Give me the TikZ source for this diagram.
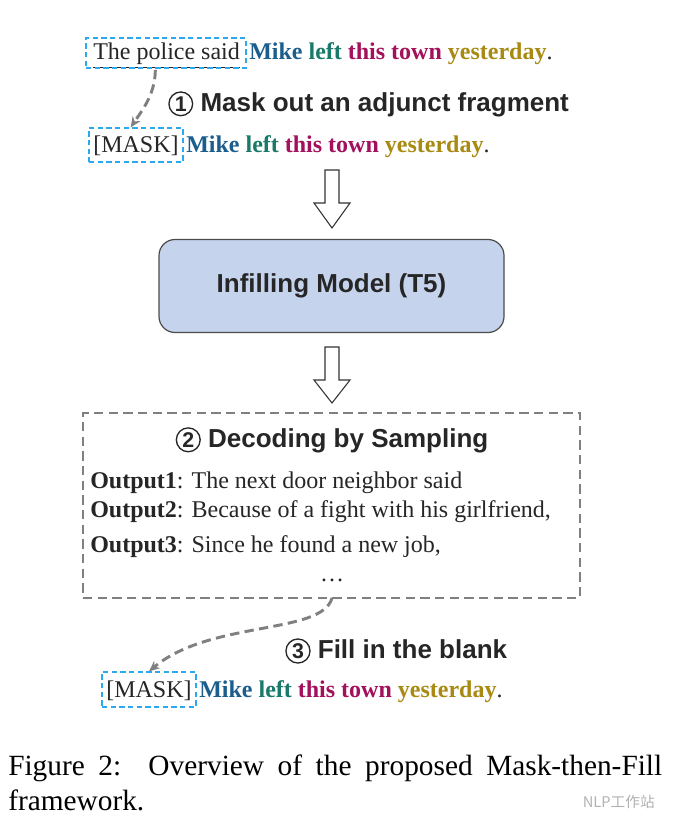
\documentclass[tikz,border=0pt]{standalone}
\usepackage{fontspec}
\setmainfont{Liberation Serif}
\newfontfamily\hsans{Liberation Sans}
\newfontfamily\cjk{Noto Sans CJK SC}
\usetikzlibrary{arrows.meta}
\definecolor{cmike}{HTML}{1B5E8E}
\definecolor{cleft}{HTML}{1A7A6A}
\definecolor{ctown}{HTML}{A3105C}
\definecolor{cyest}{HTML}{A88A12}
\definecolor{cmask}{HTML}{2AA8F0}
\definecolor{cmodel}{HTML}{C6D3EC}
\newcommand{\sent}{\textbf{\textcolor{cmike}{Mike} \textcolor{cleft}{left} \textcolor{ctown}{this town} \textcolor{cyest}{yesterday}}.}
\newcommand{\circnum}[1]{\tikz[baseline=(c.base)]\node[circle,draw,line width=1pt,inner sep=1.3pt,font=\hsans\fontsize{16}{16}\selectfont] (c) {#1};}
\tikzset{
  txt/.style={inner sep=0pt,font=\fontsize{18}{20}\selectfont,text=black!85},
  head/.style={inner sep=0pt,font=\hsans\bfseries\fontsize{19.5}{22}\selectfont,text=black!85},
  maskbox/.style={draw=cmask,line width=0.9pt,dash pattern=on 4pt off 2.5pt,inner sep=2pt},
  flow/.style={draw=gray,line width=2.2pt,dash pattern=on 7pt off 4pt,-{Stealth[length=8pt,width=7pt]}},
  hollow/.style={draw=black!80,line width=0.8pt,fill=white},
}
\begin{document}
\begin{tikzpicture}[x=0.75pt,y=-0.75pt]
\path[use as bounding box,fill=white] (0,0) rectangle (675,831);
% line 1
\node[txt,anchor=base west] (s1) at (93,60) {\underline{The police said}};
\node[maskbox,minimum width=160*0.75pt,minimum height=30*0.75pt] (b1) at (166,53) {};
\node[txt,anchor=base west] (r1) at (249,60) {\sent};
% step 1
\node[head,anchor=west] (h1) at (168,104) {\circnum{1}\ Mask out an adjunct fragment};
% line 2
\node[txt,anchor=base west] (s2) at (93,153) {[MASK]};
\node[maskbox,minimum width=94*0.75pt,minimum height=34*0.75pt] (b2) at (136,145) {};
\node[txt,anchor=base west] (r2) at (186,153) {\sent};
\draw[flow] ([xshift=-8pt,yshift=-1pt]b1.south) .. controls +(0,25) and +(10,-15) .. ([xshift=-4pt]b2.north);
% hollow arrow 1
\draw[hollow] (325,170) -- (339,170) -- (339,203) -- (350,203) -- (332,228) -- (314,203) -- (325,203) -- cycle;
% model
\node[draw=black!70,line width=0.9pt,fill=cmodel,rounded corners=12pt,minimum width=345*0.75pt,minimum height=93*0.75pt,font=\hsans\bfseries\fontsize{19.5}{22}\selectfont,text=black!85] (m) at (331.5,286) {Infilling Model (T5)};
% hollow arrow 2
\draw[hollow] (325,347) -- (339,347) -- (339,380) -- (350,380) -- (332,403) -- (314,380) -- (325,380) -- cycle;
% decoding box
\node[draw=gray,line width=1pt,dash pattern=on 7pt off 4pt,minimum width=497*0.75pt,minimum height=185*0.75pt] (d) at (331.5,505.5) {};
\node[head] (h2) at (332,440) {\circnum{2}\ Decoding by Sampling};
\node[txt,anchor=base west] (o1) at (90,488) {\textbf{Output1}: The next door neighbor said};
\node[txt,anchor=base west] (o2) at (90,517) {\textbf{Output2}: Because of a fight with his girlfriend,};
\node[txt,anchor=base west] (o3) at (90,552) {\textbf{Output3}: Since he found a new job,};
\node[txt] (dots) at (332,580) {\dots};
% step 3
\node[head,anchor=west] (h3) at (285,651) {\circnum{3}\ Fill in the blank};
\node[txt,anchor=base west] (s3) at (106,697) {[MASK]};
\node[maskbox,minimum width=94*0.75pt,minimum height=35*0.75pt] (b3) at (149,689.5) {};
\node[txt,anchor=base west] (r3) at (199,697) {\sent};
\coordinate (dstart) at (332,598);
\draw[flow] (dstart) .. controls (322,635) and (210,620) .. (b3.north);
% caption
\node[inner sep=0pt,anchor=north west,text width=654*0.75pt,align=justify,font=\fontsize{22}{26}\selectfont] (cap) at (8,755) {Figure 2:\ \ Overview of the proposed Mask-then-Fill framework.};
\node[inner sep=0pt,anchor=east,text=gray!60,font=\cjk\fontsize{11}{12}\selectfont] (wm) at (655,802) {NLP工作站};
\end{tikzpicture}
\end{document}
